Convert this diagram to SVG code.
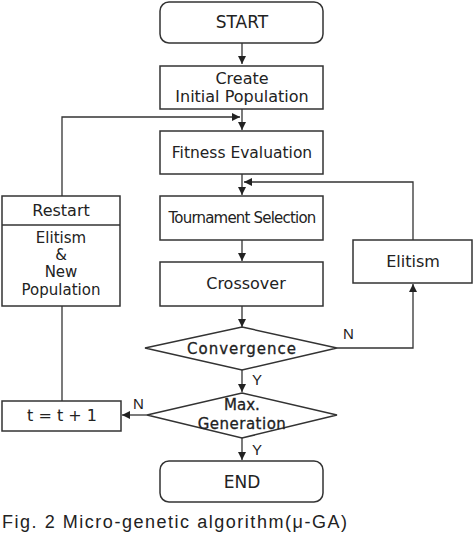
<svg xmlns="http://www.w3.org/2000/svg" width="474" height="535" viewBox="0 0 474 535">
<defs>
<marker id="ah" viewBox="0 0 10 10" refX="10" refY="5" markerWidth="8" markerHeight="8" markerUnits="userSpaceOnUse" orient="auto"><path d="M0,0 L10,5 L0,10 z" fill="#222"/></marker>
<style>
.box{fill:#fff;stroke:#333;stroke-width:1.5}
.t{font-family:"DejaVu Sans","Liberation Sans",sans-serif;font-size:15px;fill:#222;text-anchor:middle}
.d{font-family:"DejaVu Sans","Liberation Sans",sans-serif;font-size:15px;fill:#222;text-anchor:middle;stroke:#222;stroke-width:0.3}
.c{fill:none;stroke:#333;stroke-width:1.3}
.lbl{font-family:"Liberation Sans",sans-serif;font-size:15px;fill:#222}
</style>
</defs>
<rect width="474" height="535" fill="#fff"/>
<g id="connectors">
<path class="c" d="M242,43 V64" marker-end="url(#ah)"/>
<path class="c" d="M242,109 V130" marker-end="url(#ah)"/>
<path class="c" d="M62,196 V117 H240" marker-end="url(#ah)"/>
<path class="c" d="M242,174 V195" marker-end="url(#ah)"/>
<path class="c" d="M413,240 V182 H244" marker-end="url(#ah)"/>
<path class="c" d="M242,240 V261" marker-end="url(#ah)"/>
<path class="c" d="M242,306 V327" marker-end="url(#ah)"/>
<path class="c" d="M337,348 H413 V284" marker-end="url(#ah)"/>
<path class="c" d="M242,370 V392" marker-end="url(#ah)"/>
<path class="c" d="M147,415 H122" marker-end="url(#ah)"/>
<path class="c" d="M62,401 V306"/>
<path class="c" d="M242,438 V460" marker-end="url(#ah)"/>
<text class="lbl" x="343" y="339">N</text>
<text class="lbl" x="252" y="385">Y</text>
<text class="lbl" x="133" y="409">N</text>
<text class="lbl" x="252" y="455">Y</text>
</g>
<g id="start"><rect class="box" x="160" y="2" width="163" height="41" rx="9"/><text class="t" x="242" y="28" style="font-size:17px">START</text></g>
<g id="create"><rect class="box" x="160" y="66" width="163" height="43"/><text class="t" x="242" y="84" style="font-size:16px">Create</text><text class="t" x="242" y="102" style="font-size:16px">Initial Population</text></g>
<g id="fitness"><rect class="box" x="160" y="131" width="163" height="43"/><text class="t" x="242" y="158" style="font-size:15.5px">Fitness Evaluation</text></g>
<g id="tournament"><rect class="box" x="160" y="196" width="163" height="44"/><text class="t" x="242" y="223" style="letter-spacing:-0.8px">Tournament Selection</text></g>
<g id="crossover"><rect class="box" x="160" y="262" width="163" height="44"/><text class="t" x="246" y="289" style="font-size:16px">Crossover</text></g>
<g id="convergence"><polygon class="box" points="242,327 337,348 242,370 145,348"/><text class="d" x="242" y="354" style="letter-spacing:1px">Convergence</text></g>
<g id="maxgen"><polygon class="box" points="242,393 337,415 242,438 147,415"/><text class="d" x="242" y="410">Max.</text><text class="d" x="242" y="429" style="letter-spacing:0.5px">Generation</text></g>
<g id="end"><rect class="box" x="160" y="461" width="163" height="41" rx="9"/><text class="t" x="242" y="488" style="font-size:17px">END</text></g>
<g id="elitism"><rect class="box" x="353" y="240" width="119" height="43"/><text class="t" x="413" y="267" style="font-size:16px">Elitism</text></g>
<g id="restart"><rect class="box" x="2" y="196" width="118" height="110"/><line class="c" x1="2" y1="225" x2="120" y2="225"/><text class="t" x="61" y="216" style="font-size:16px">Restart</text><text class="t" x="61" y="243">Elitism</text><text class="t" x="61" y="260">&amp;</text><text class="t" x="61" y="277">New</text><text class="t" x="61" y="295">Population</text></g>
<g id="tinc"><rect class="box" x="2" y="401" width="119" height="30"/><text class="t" x="62" y="421" style="font-size:16px">t = t + 1</text></g>
<text x="2" y="528" font-family="Liberation Sans, sans-serif" font-size="18" fill="#222" textLength="345" lengthAdjust="spacing">Fig. 2 Micro-genetic algorithm(μ-GA)</text>
</svg>
